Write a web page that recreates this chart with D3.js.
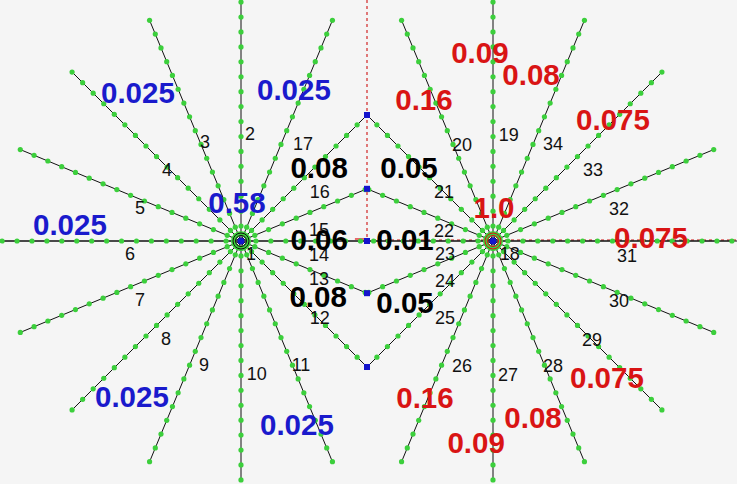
<!DOCTYPE html>
<html><head><meta charset="utf-8">
<script src="https://cdn.jsdelivr.net/npm/d3@7/dist/d3.min.js"></script>
<style>body{margin:0;background:#f5f5f5;overflow:hidden}svg{display:block}</style>
</head><body>
<svg id="chart" width="737" height="484"></svg>
<script>
// ---- data (node spacing = 1 unit, y upward) ----
const nodes = [
  {id: "1",  x: 0, y: 0, ring: "#111111"},
  {id: "18", x: 1, y: 0, ring: "#dd1111"}
];
const rayAngles = [90, 112.5, 135, 157.5, 180, 202.5, 225, 247.5, 270, 292.5, 315, 337.5, 0, 22.5, 45, 67.5];
const rayLength = 0.948;
const midline = 0.5;
const dotsPerRay = 16;

const rayLabelText = ["1","2","3","4","5","6","7","8","9","10","11","12","13","14","15","16","17",
                      "18","19","20","21","22","23","24","25","26","27","28","29","30","31","32","33","34"];
const rayLabelX = [0.040,0.036,-0.143,-0.294,-0.401,-0.440,-0.401,-0.298,-0.147,0.063,0.238,0.313,0.310,0.310,0.310,0.313,0.246,
                   1.067,1.063,0.877,0.806,0.806,0.810,0.810,0.810,0.877,1.060,1.238,1.393,1.500,1.532,1.500,1.397,1.238];
const rayLabelY = [-0.075,0.401,0.369,0.258,0.107,-0.075,-0.258,-0.413,-0.516,-0.552,-0.516,-0.329,-0.175,-0.079,0.020,0.171,0.361,
                   -0.075,0.397,0.357,0.171,0.016,-0.075,-0.183,-0.329,-0.520,-0.556,-0.520,-0.417,-0.262,-0.083,0.103,0.258,0.361];

const blueValues = ["0.025","0.025","0.58","0.025","0.025","0.025"];
const blueX = [-0.409, 0.210, -0.016, -0.679, -0.433, 0.222];
const blueY = [0.548, 0.560, 0.111, 0.024, -0.659, -0.770];

const redValues = ["0.09","0.08","0.16","0.075","1.0","0.075","0.075","0.16","0.08","0.09"];
const redX = [0.948, 1.151, 0.726, 1.476, 1.004, 1.627, 1.452, 0.730, 1.159, 0.933];
const redY = [0.706, 0.619, 0.520, 0.440, 0.091, -0.028, -0.583, -0.663, -0.742, -0.841];

const blackValues = ["0.08","0.05","0.06","0.01","0.08","0.05"];
const blackX = [0.310, 0.667, 0.310, 0.651, 0.306, 0.651];
const blackY = [0.250, 0.250, -0.036, -0.036, -0.262, -0.286];

// ---- scales ----
const W = 737, H = 484;
const x = d3.scaleLinear().domain([0, 1]).range([241, 493]);
const y = d3.scaleLinear().domain([0, 1]).range([241, -11]);
const xMin = x.invert(0), xMax = x.invert(W), yMax = y.invert(0);

const svg = d3.select("#chart");
svg.append("rect").attr("width", W).attr("height", H).attr("fill", "#f5f5f5");

// ---- rays ----
const rays = [];
nodes.forEach((n, i) => {
  const toward = i === 0 ? 1 : -1;
  rayAngles.forEach(a => {
    const r = a * Math.PI / 180;
    const dx = Math.cos(r), dy = Math.sin(r);
    let len = rayLength;
    let truncated = false;
    if (dx * toward > 0.69) { len = Math.abs((midline - n.x) / dx); truncated = true; }
    rays.push({n, dx, dy, len, truncated});
  });
});

// red dashed guides
svg.append("line")
  .attr("x1", x(midline)).attr("x2", x(midline))
  .attr("y1", y(yMax)).attr("y2", y(0))
  .attr("stroke", "#cc1111").attr("stroke-width", 1.1).attr("stroke-dasharray", "3,3");
svg.append("line")
  .attr("x1", x(midline)).attr("x2", x(xMax))
  .attr("y1", y(0) - 1).attr("y2", y(0) - 1)
  .attr("stroke", "#cc1111").attr("stroke-width", 1).attr("stroke-dasharray", "3,3");
svg.append("line")
  .attr("x1", x(0.452)).attr("x2", x(midline))
  .attr("y1", y(0.008)).attr("y2", y(0.008))
  .attr("stroke", "#dd1111").attr("stroke-width", 1.2);

// horizontal axis line
svg.append("line")
  .attr("x1", x(xMin)).attr("x2", x(xMax))
  .attr("y1", y(0)).attr("y2", y(0))
  .attr("stroke", "#111").attr("stroke-width", 1);

svg.append("g").selectAll("line").data(rays).join("line")
  .attr("x1", d => x(d.n.x)).attr("y1", d => y(d.n.y))
  .attr("x2", d => x(d.n.x + d.dx * d.len)).attr("y2", d => y(d.n.y + d.dy * d.len))
  .attr("stroke", "#111").attr("stroke-width", 1);

// dots
const step = rayLength / dotsPerRay;
const dots = [];
rays.forEach(d => {
  const ks = [0.5];
  for (let k = 1; k * step <= d.len + 1e-6; k++) ks.push(k);
  ks.forEach(k => dots.push({x: d.n.x + d.dx * k * step, y: d.n.y + d.dy * k * step}));
});
svg.append("g").selectAll("circle").data(dots).join("circle")
  .attr("cx", d => x(d.x)).attr("cy", d => y(d.y)).attr("r", 2.6)
  .attr("fill", "#3ccf3c");

// squares at truncated ray ends
const squares = rays.filter(d => d.truncated && d.n.x === 0)
  .map(d => ({x: midline, y: d.dy * d.len}));
svg.append("g").selectAll("rect").data(squares).join("rect")
  .attr("x", d => x(d.x) - 3).attr("y", d => y(d.y) - 3)
  .attr("width", 6).attr("height", 6).attr("fill", "#1515cc");

// node symbols
const ng = svg.append("g").selectAll("g").data(nodes).join("g")
  .attr("transform", d => `translate(${x(d.x)},${y(d.y)})`);
ng.append("circle").attr("r", 8).attr("fill", "none").attr("stroke", d => d.ring).attr("stroke-width", 1);
ng.append("circle").attr("r", 5.5).attr("fill", "none").attr("stroke", d => d.ring).attr("stroke-width", 1);
ng.append("circle").attr("r", 3.5).attr("fill", "#1515cc");

// ray labels
svg.append("g").selectAll("text").data(rayLabelText).join("text")
  .attr("x", (d, i) => x(rayLabelX[i])).attr("y", (d, i) => y(rayLabelY[i]))
  .attr("text-anchor", "middle")
  .attr("font-family", "Liberation Sans, Arial, sans-serif").attr("font-size", 18)
  .attr("fill", "#111").text(d => d);

function valueLabels(vals, xs, ys, color) {
  svg.append("g").selectAll("text").data(vals).join("text")
    .attr("x", (d, i) => x(xs[i])).attr("y", (d, i) => y(ys[i]))
    .attr("text-anchor", "middle")
    .attr("font-family", "Liberation Sans, Arial, sans-serif").attr("font-size", 29.5)
    .attr("font-weight", "bold").attr("fill", color).text(d => d);
}
valueLabels(blueValues, blueX, blueY, "#1a1acc");
valueLabels(redValues, redX, redY, "#d91414");
valueLabels(blackValues, blackX, blackY, "#000");
</script>
</body></html>
